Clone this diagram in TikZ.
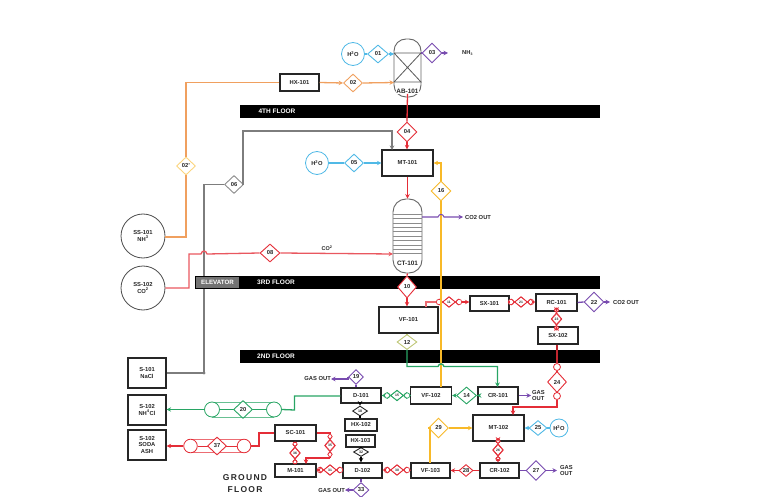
\documentclass[tikz,border=0pt]{standalone}
\usepackage{fontspec}
\setmainfont{Liberation Sans}
\usetikzlibrary{shapes.geometric,arrows.meta,backgrounds}
\definecolor{cC}{RGB}{80,185,230}
\definecolor{cO}{RGB}{240,160,95}
\definecolor{cY}{RGB}{248,185,40}
\definecolor{cP}{RGB}{120,75,175}
\definecolor{cG}{RGB}{40,165,100}
\definecolor{cR}{RGB}{228,45,55}
\definecolor{cK}{RGB}{125,125,125}
\definecolor{cT}{RGB}{40,40,40}
\newcommand\supp[1]{\textsuperscript{#1}}
\newcommand\subb[1]{\raisebox{-0.5pt}{\fontsize{3.5}{4}\selectfont #1}}
\tikzset{
  x=1pt,y=-1pt,
  lab/.style={font=\bfseries\fontsize{5.8}{6.8}\selectfont,text=cT,inner sep=0pt,align=center},
  box/.style={draw=black!85,line width=1.1pt,fill=white,lab,minimum width=#1},
  bar/.style={fill=black,inner sep=0pt,text=white,font=\bfseries\fontsize{6.5}{7}\selectfont},
  dia/.style n args={3}{diamond,draw=#1,line width=0.9pt,fill=white,lab,minimum width=#2,minimum height=#3},
  cir/.style n args={2}{circle,draw=#1,line width=0.8pt,fill=white,lab,minimum size=#2},
  con/.style={draw=#1,line width=1.3pt,-{Stealth[length=4.5pt,width=4.5pt]}},
  lin/.style={draw=#1,line width=1.3pt},
  thin line/.style={draw=#1,line width=0.7pt},
  tiny lab/.style={font=\bfseries\fontsize{3.4}{4}\selectfont,text=cT}
}
\newcommand\hxh[5]{%
  \node[diamond,draw=#5,line width=0.7pt,fill=white,inner sep=0pt,minimum width=13pt,minimum height=10pt,tiny lab] (#1) at (#2,#3) {#4};
  \node[circle,draw=#5,line width=0.7pt,fill=white,inner sep=0pt,minimum size=5.5pt] (#1a) at (#2-10,#3) {};
  \node[circle,draw=#5,line width=0.7pt,fill=white,inner sep=0pt,minimum size=5.5pt] (#1b) at (#2+10,#3) {};
  \draw[thin line=#5] (#1a.north) -- (#1.south) (#1a.south) -- (#1.north) (#1b.north) -- (#1.south) (#1b.south) -- (#1.north);
}
\newcommand\hxv[5]{%
  \node[diamond,draw=#5,line width=0.7pt,fill=white,inner sep=0pt,minimum width=10pt,minimum height=11pt,tiny lab] (#1) at (#2,#3) {#4};
  \node[circle,draw=#5,line width=0.7pt,fill=white,inner sep=0pt,minimum size=4pt] (#1a) at (#2,#3-9) {};
  \node[circle,draw=#5,line width=0.7pt,fill=white,inner sep=0pt,minimum size=4pt] (#1b) at (#2,#3+9) {};
  \draw[thin line=#5] (#1a.west) -- (#1.east) (#1a.east) -- (#1.west) (#1b.west) -- (#1.east) (#1b.east) -- (#1.west);
}
\newcommand\bigex[8]{% name,x1,x2,xd,y,label,colour,r
  \draw[draw=#7!70!white,line width=0.7pt] (#2,#5-#8) -- (#3,#5-#8) (#2,#5+#8) -- (#3,#5+#8);
  \node[circle,draw=#7,line width=0.8pt,fill=white,inner sep=0pt,minimum size=#8*2pt] (#1a) at (#2,#5) {};
  \node[circle,draw=#7,line width=0.8pt,fill=white,inner sep=0pt,minimum size=#8*2pt] (#1b) at (#3,#5) {};
  \draw[draw=#7,line width=0.8pt] (#1a.east) -- (#1b.west);
  \node[dia={#7}{19pt}{18pt}] (#1) at (#4,#5) {#6};
}
\begin{document}
\begin{tikzpicture}
\useasboundingbox (0,0) rectangle (768,497);
% floors
\node[bar,minimum width=360pt,minimum height=13pt] (f4) at (420,111.5) {};
\node[bar,minimum width=405pt,minimum height=13pt] (f3) at (397.5,282.5) {};
\node[bar,minimum width=360pt,minimum height=13pt] (f2) at (420,356.5) {};
\node[bar] (t4) at (277,111.5) {4TH FLOOR};
\node[bar] (t3) at (276,282.5) {3RD FLOOR};
\node[bar] (t2) at (276,356.5) {2ND FLOOR};
\node[fill=black!55,text=white,inner sep=0pt,minimum width=43pt,minimum height=11pt,font=\bfseries\fontsize{6.2}{7}\selectfont] (elev) at (217.5,282.5) {ELEVATOR};
% sources
\node[cir={black!70}{44pt}] (ss1) at (143,236) {SS-101\\NH\supp{3}};
\node[cir={black!70}{44pt}] (ss2) at (143,288) {SS-102\\CO\supp{2}};
\node[box=38pt,minimum height=30pt] (s1) at (147,373) {S-101\\NaCl};
\node[box=38pt,minimum height=30pt] (s2) at (147,410) {S-102\\NH\supp{4}Cl};
\node[box=38pt,minimum height=30pt] (s3) at (147,445) {S-102\\SODA\\ASH};
% absorber
\node[draw=black!60,line width=0.9pt,fill=white,rounded corners=12pt,minimum width=27pt,minimum height=58pt,inner sep=0pt] (ab) at (407.5,68) {};
\coordinate (abnw) at (394,53); \coordinate (abne) at (421,53);
\coordinate (absw) at (394,82); \coordinate (abse) at (421,82);
\draw[draw=black!65,line width=0.8pt] (abnw) -- (abne) -- (absw) -- (abse) -- (abnw);
\node[lab,fill=white,inner sep=0.5pt,font=\bfseries\fontsize{6.4}{7}\selectfont] (abl) at (407.5,91) {AB-101};
% carbonator
\node[draw=black!60,line width=0.9pt,fill=white,rounded corners=13pt,minimum width=29pt,minimum height=74pt,inner sep=0pt] (ct) at (407.5,236) {};
\foreach \yy in {214,218.4,222.8,227.2,231.6,236,240.4,244.8,249.2,253.6}
  \draw[black!45,line width=0.6pt] (393,\yy) -- (422,\yy);
\node[lab,font=\bfseries\fontsize{6.4}{7}\selectfont] (ctl) at (407.5,263.5) {CT-101};
% boxes
\node[box=39pt,minimum height=17pt] (hx1) at (299.5,82.5) {HX-101};
\node[box=51pt,minimum height=26pt] (mt1) at (407.5,163) {MT-101};
\node[box=59pt,minimum height=26pt] (vf1) at (408.5,320) {VF-101};
\node[box=39pt,minimum height=15pt] (sx1) at (489.5,303.5) {SX-101};
\node[box=41pt,minimum height=17pt] (rc1) at (556.5,302.5) {RC-101};
\node[box=40pt,minimum height=17pt] (sx2) at (558,335.5) {SX-102};
\node[box=40pt,minimum height=15pt] (d1) at (361,395.5) {D-101};
\node[box=41pt,minimum height=17pt] (vf2) at (431,395.5) {VF-102};
\node[box=40pt,minimum height=17pt] (cr1) at (498,395.5) {CR-101};
\node[box=32pt,minimum height=12pt] (hx2) at (361,425) {HX-102};
\node[box=29pt,minimum height=12pt] (hx3) at (360.5,441) {HX-103};
\node[box=39pt,minimum height=15pt] (d2) at (362.5,470.5) {D-102};
\node[box=39pt,minimum height=15pt] (vf3) at (430.5,470.5) {VF-103};
\node[box=39pt,minimum height=15pt] (cr2) at (499.5,470.5) {CR-102};
\node[box=51pt,minimum height=26pt] (mt2) at (498.5,428) {MT-102};
\node[box=41pt,minimum height=16pt] (sc1) at (295.5,433) {SC-101};
\node[box=41pt,minimum height=13pt] (m1) at (295.5,470.5) {M-101};
% water circles
\node[cir={cC}{23pt}] (w1) at (353,54) {H\supp{2}O};
\node[cir={cC}{23pt}] (w2) at (317,163) {H\supp{2}O};
\node[cir={cC}{18pt}] (w3) at (559,428) {H\supp{2}O};
% diamonds
\node[dia={cC}{21pt}{18pt}] (d01) at (378,54) {01};
\node[dia={cO}{19pt}{18pt}] (d02) at (353,83) {02};
\node[dia={cY!60!white}{19pt}{18pt}] (d02p) at (186,166) {02'};
\node[dia={cP}{20pt}{20pt}] (d03) at (432,53) {03};
\node[dia={cR}{20pt}{20pt}] (d04) at (407,132) {04};
\node[dia={cC}{19pt}{18pt}] (d05) at (354,163) {05};
\node[dia={black!45}{19pt}{18pt}] (d06) at (234,184.5) {06};
\node[dia={cR}{20pt}{18pt}] (d08) at (270,253) {08};
\node[dia={cR}{19pt}{22pt}] (d10) at (407,287) {10};
\node[dia={cG!40!cY!70!white}{20pt}{15pt}] (d12) at (407,342) {12};
\node[dia={cG}{20pt}{17pt}] (d14) at (466.5,395.5) {14};
\node[dia={cY}{20pt}{20pt}] (d16) at (441,191) {16};
\node[dia={cP}{15pt}{15pt}] (d19) at (356,377) {19};
\node[dia={black!85}{15pt}{10pt},font=\bfseries\fontsize{3.6}{4}\selectfont] (d18) at (360,411) {18};
\node[dia={black!85}{15pt}{9pt},font=\bfseries\fontsize{3.6}{4}\selectfont] (d32) at (361,452) {32};
\node[dia={cP}{20pt}{20pt}] (d22) at (594,302) {22};
\node[dia={cR}{19pt}{21pt}] (d24) at (557,382) {24};
\node[dia={cC}{18pt}{15pt}] (d25) at (538,428) {25};
\node[dia={cP}{20pt}{20pt}] (d27) at (536,470.5) {27};
\node[dia={cR}{14pt}{12pt}] (d28) at (466,470.5) {28};
\node[dia={cY}{20pt}{20pt}] (d29) at (438.5,428) {29};
\node[dia={cP}{16pt}{15pt}] (d33) at (361,490) {33};
% small exchangers
\hxh{e11}{449}{302}{11}{cR}
\hxh{e21}{521}{302}{21}{cR}
\hxv{e23}{556.5}{319}{23}{cR}
\hxh{e15}{397}{395.5}{15}{cG}
\hxh{e31}{330}{470}{31}{cR}
\hxh{e30}{397}{470}{30}{cR}
\hxv{e26}{498}{450}{26}{cR}
\hxv{e36}{295}{453}{36}{cR}
\hxv{e35}{330}{445.5}{35}{cR}
\node[circle,draw=cR,line width=0.8pt,fill=white,inner sep=0pt,minimum size=7pt] (c24a) at (557,367) {};
\node[circle,draw=cR,line width=0.8pt,fill=white,inner sep=0pt,minimum size=7pt] (c24b) at (557,396) {};
% big exchangers
\bigex{ex20}{212}{274}{243}{409.5}{20}{cG}{7.5}
\bigex{ex37}{190.5}{244}{217}{446}{37}{cR}{6.8}
% waypoints
\coordinate (o1) at (186,82.5);
\coordinate (o2) at (186,237);
\coordinate (g1) at (204,373);
\coordinate (g2) at (204,184.5);
\coordinate (g3) at (243,131);
\coordinate (g4) at (392,131);
\coordinate (g5) at (392,150);
\coordinate (r1) at (189,288);
\coordinate (r2) at (189,254);
\coordinate (rj1) at (201,254);
\coordinate (rj2) at (207,254);
\coordinate (r3) at (393,254);
\coordinate (nh) at (448,53);
\coordinate (a1) at (394,82.5);
\coordinate (ab2) at (394,54);
\coordinate (y1) at (441,163);
\coordinate (y2) at (441,387);
\coordinate (p1) at (422,217);
\coordinate (pj1) at (438,217);
\coordinate (pj2) at (444,217);
\coordinate (p2) at (463,217);
\coordinate (gr1) at (407,366.5);
\coordinate (grj1) at (438,366.5);
\coordinate (grj2) at (444,366.5);
\coordinate (gr2) at (497.5,366.5);
\coordinate (gr3) at (497.5,387);
\coordinate (v1) at (426,307);
\coordinate (v2) at (426,302);
\coordinate (co22) at (610,302);
\coordinate (rd1) at (557,407);
\coordinate (rd2) at (513,407);
\coordinate (rd3) at (513,415);
\coordinate (gn1) at (294.5,396);
\coordinate (gn2) at (294.5,410);
\coordinate (sc2) at (259,446);
\coordinate (sc3) at (259,433);
\coordinate (sc4) at (330,433);
\coordinate (sc5) at (330,458);
\coordinate (sc6) at (306,458);
\coordinate (sc7) at (306,464);
\coordinate (y3) at (430,428);
\coordinate (y4) at (430,463);
\coordinate (gout19) at (331,379);
\coordinate (gout33) at (345,490);
\coordinate (out1) at (531,395.5);
\coordinate (out2) at (557,470.5);
% grey line lies behind the floor bars
\begin{scope}[on background layer]
\draw[lin=cK] (s1.east |- g1) -- (g1) -- (g2) -- (d06.west);
\fill[cK] (g1) circle (1.6pt);
\end{scope}
\draw[con=cK] (d06.east) -- (d06.east -| g3) -- (g3) -- (g4) -- (g5);
% orange
\draw[con=cO] (hx1.east) -- (d02.west);
\draw[con=cO] (d02.east) -- (a1);
\draw[lin=cO] (hx1.west) -- (o1) -- (d02p.north);
\draw[lin=cO] (d02p.south) -- (o2) -- (ss1.east |- o2);
% red feed
\draw[lin=cR!80!white] (ss2.east) -- (r1) -- (r2) -- (rj1) .. controls (202,250) and (206,250) .. (rj2) -- (d08.west);
\draw[con=cR!80!white] (d08.east) -- (r3);
% top
\draw[lin=cC] (w1.east) -- (d01.west);
\draw[con=cC] (d01.east) -- (ab2);
\draw[lin=cP] (abne) -- (d03.west);
\draw[con=cP] (d03.east) -- (nh);
\node[lab,anchor=west] (nh3) at (462,53) {NH\subb{3}};
\draw[lin=cR] (abl.south) -- (d04.north);
\draw[con=cR] (d04.south) -- (d04.south |- mt1.north);
\draw[lin=cC] (w2.east) -- (d05.west);
\draw[con=cC] (d05.east) -- (mt1.west);
\draw[con=cR] (mt1.south) -- (ct.north);
\draw[lin=cR] (ct.south) -- (d10.north);
\draw[con=cR] (d10.south) -- (d10.south |- vf1.north);
% yellow
\draw[lin=cY] (y2) -- (d16.south);
\draw[con=cY] (d16.north) -- (y1) -- (mt1.east |- y1);
\draw[draw=cP,line width=1pt,-{Stealth[length=4.5pt,width=4.5pt]}] (p1) -- (pj1) .. controls (439,213.5) and (443,213.5) .. (pj2) -- (p2);
\node[lab,anchor=west] (co2o1) at (465,218) {CO2 OUT};
\node[lab,font=\fontsize{5.5}{6}\selectfont\bfseries] (co2l) at (327,248.5) {CO\supp{2}};
% green
\draw[lin=cG!40!cY!70!white] (vf1.south -| d12) -- (d12.north);
\draw[con=cG] (d12.south) -- (gr1) -- (grj1) .. controls (439,363) and (443,363) .. (grj2) -- (gr2) -- (gr3);
% red sx chain
\draw[lin=cR!70!white] (v1) -- (v2) -- (e11a.west);
\draw[con=cR] (e11b.east) -- (sx1.west |- e11b);
\draw[lin=cR] (sx1.east |- e21a) -- (e21a.west);
\draw[con=cR] (e21b.east) -- (rc1.west |- e21b);
\draw[lin=cP] (rc1.east) -- (d22.west);
\draw[con=cP] (d22.east) -- (co22);
\node[lab,anchor=west] (co2o2) at (613,303) {CO2 OUT};
\draw[con=cR] (e23a.north) -- (e23a.north |- rc1.south);
\draw[con=cR] (e23b.south) -- (e23b.south |- sx2.north);
\draw[lin=cR!85!black] (sx2.south -| c24a) -- (c24a.north);
\draw[con=cR] (c24b.south) -- (rd1) -- (rd2) -- (rd3);
\draw[lin=cR] (c24a.south) -- (d24.north) (d24.south) -- (c24b.north);
% second floor row
\draw[con=cG] (cr1.west) -- (d14.east);
\draw[con=cG] (d14.west) -- (vf2.east);
\draw[lin=cG] (vf2.west) -- (e15b.east);
\draw[con=cG] (e15a.west) -- (d1.east);
\draw[con=cP] (cr1.east) -- (out1);
\node[lab,anchor=west,align=left] (gasa) at (532,395.5) {GAS\\OUT};
\draw[lin=cG] (d1.west |- gn1) -- (gn1) -- (gn2) -- (ex20b.east);
\draw[con=cG] (ex20a.west) -- (s2.east |- ex20a);
\draw[lin=cP] (d1.north -| d19) -- (d19.south);
\draw[con=cP] (d19.west) -- (d19.west |- gout19) -- (gout19);
\node[lab,anchor=east] (gasb) at (331,379) {GAS OUT};
\draw[con=black] (d1.south -| d18) -- (d18.north);
\draw[lin=black] (d18.south) -- (d18.south |- hx2.north);
\draw[con=black] (d32.south) -- (d32.south |- d2.north);
\draw[lin=black] (hx3.south -| d32) -- (d32.north);
% MT-102
\draw[con=cY] (d29.east) -- (mt2.west);
\draw[lin=cY] (d29.west) -- (y3) -- (y4);
\draw[lin=cC] (w3.west) -- (d25.east);
\draw[con=cC] (d25.west) -- (mt2.east);
\draw[con=cR] (e26a.north) -- (e26a.north |- mt2.south);
\draw[con=cR] (e26b.south) -- (e26b.south |- cr2.north);
\draw[lin=cR] (cr2.west) -- (d28.east);
\draw[con=cR] (d28.west) -- (vf3.east);
\draw[lin=cP] (cr2.east) -- (d27.west);
\draw[con=cP] (d27.east) -- (out2);
\node[lab,anchor=west,align=left] (gasc) at (560,470.5) {GAS\\OUT};
\draw[lin=cR] (vf3.west) -- (e30b.east);
\draw[con=cR] (e30a.west) -- (d2.east |- e30a);
\draw[lin=cR] (d2.west |- e31b) -- (e31b.east);
\draw[con=cR] (e31a.west) -- (m1.east |- e31a);
\draw[lin=cP] (d2.south -| d33) -- (d33.north);
\draw[con=cP] (d33.west) -- (gout33);
\node[lab,anchor=east] (gasd) at (345,490) {GAS OUT};
% ground
\draw[lin=cR] (sc1.west) -- (sc3) -- (sc2) -- (ex37b.east);
\draw[con=cR] (ex37a.west) -- (s3.east |- ex37a);
\draw[lin=cR] (sc1.east) -- (sc4) -- (e35a.north);
\draw[lin=cR] (e35b.south) -- (sc5);
\draw[con=cR] (sc5) -- (sc6) -- (sc7);
\draw[lin=cR] (sc1.south -| e36a) -- (e36a.north);
\draw[lin=cR] (e36b.south) -- (m1.north -| e36b);
\node[font=\bfseries\fontsize{8.5}{9}\selectfont,text=cT,inner sep=0pt] (gf1) at (245,477.5) {\addfontfeature{LetterSpace=15}GROUND};
\node[font=\bfseries\fontsize{8.5}{9}\selectfont,text=cT,inner sep=0pt] (gf2) at (245,490) {\addfontfeature{LetterSpace=15}FLOOR};
\end{tikzpicture}
\end{document}
